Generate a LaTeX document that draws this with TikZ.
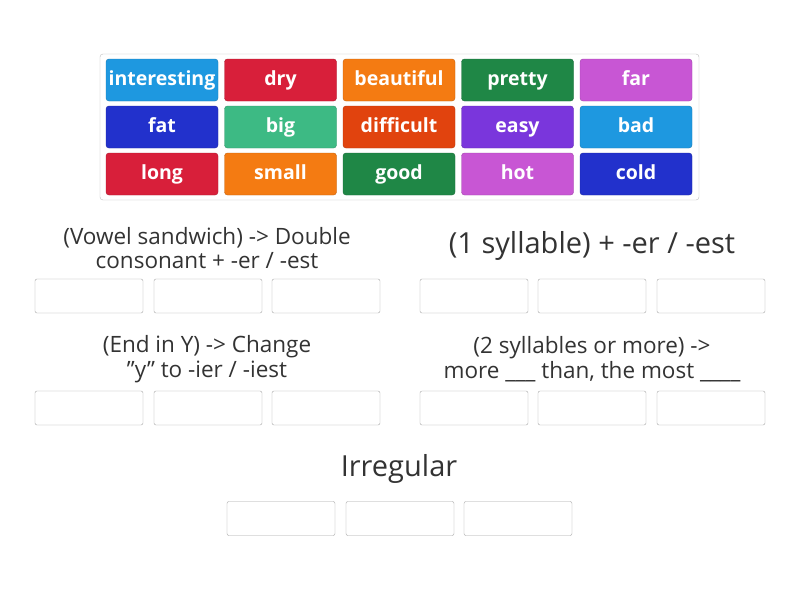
\documentclass[tikz,border=0pt]{standalone}
\usepackage{fontspec}
\setmainfont{Open Sans}
\definecolor{ccyan}{HTML}{1E98E0}
\definecolor{cred}{HTML}{D81F3A}
\definecolor{corange}{HTML}{F47B12}
\definecolor{cdgreen}{HTML}{1F8746}
\definecolor{cpink}{HTML}{C856D4}
\definecolor{cblue}{HTML}{2231CC}
\definecolor{clgreen}{HTML}{3DBA84}
\definecolor{credor}{HTML}{E1430E}
\definecolor{cpurple}{HTML}{7A36DC}
\definecolor{txt}{HTML}{333333}
\tikzset{
 tile/.style={fill=#1, draw=#1!80!black, rounded corners=3pt, minimum width=112pt, minimum height=42pt, text=white, font=\fontsize{19.5}{22}\selectfont\bfseries, inner sep=0pt, text height=14pt, text depth=4pt},
 slot/.style={draw=black!35, rounded corners=2pt, minimum width=108pt, minimum height=34pt, inner sep=0pt},
 head/.style={text=txt, font=\fontsize{22.5}{24.5}\selectfont, align=center},
}
\begin{document}
\begin{tikzpicture}[x=1pt,y=-1pt]
\useasboundingbox (0,0) rectangle (800,600);
\fill[white] (0,0) rectangle (800,600);
\node[draw=black!25, rounded corners=3pt, minimum width=599pt, minimum height=146pt] (frame) at (399.5,127) {};
\foreach \t/\c [count=\i from 0] in {interesting/ccyan,dry/cred,beautiful/corange,pretty/cdgreen,far/cpink,fat/cblue,big/clgreen,difficult/credor,easy/cpurple,bad/ccyan,long/cred,small/corange,good/cdgreen,hot/cpink,cold/cblue}{
 \pgfmathtruncatemacro\col{mod(\i,5)}
 \pgfmathtruncatemacro\row{div(\i,5)}
 \node[tile=\c] (t\i) at ({162+118.5*\col},{80+47*\row}) {\t};
}
\node[head] (h1) at (207,248) {(Vowel sandwich) -> Double\\consonant + -er / -est};
\node[head, font=\fontsize{29}{32}\selectfont] (h2) at (592,246) {(1 syllable) + -er / -est};
\node[head] (h3) at (207,359) {(End in Y) -> Change\\\symbol{"22}y\symbol{"22} to -ier / -iest};
\node[head] (h4) at (592,359) {(2 syllables or more) ->\\more \_\_\_ than, the most \_\_\_\_};
\node[head, font=\fontsize{29}{32}\selectfont] (h5) at (399,469) {Irregular};
\foreach \x [count=\j] in {89,208,326}{
 \node[slot] (a\j) at (\x,296) {};
 \node[slot] (c\j) at (\x,408) {};
}
\foreach \x [count=\j] in {474,592,711}{
 \node[slot] (b\j) at (\x,296) {};
 \node[slot] (d\j) at (\x,408) {};
}
\foreach \x [count=\j] in {281,400,518}{
 \node[slot] (e\j) at (\x,518.5) {};
}
\end{tikzpicture}
\end{document}
